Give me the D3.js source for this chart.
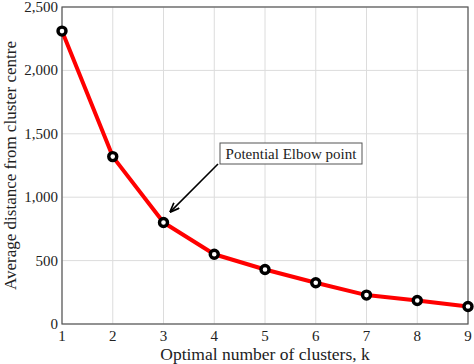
<!DOCTYPE html>
<html><head><meta charset="utf-8">
<script src="https://cdn.jsdelivr.net/npm/d3@7"></script>
<style>body{margin:0;background:#fff}svg{display:block}text{font-family:"Liberation Serif","DejaVu Serif",serif;fill:#222}</style>
</head><body><svg id="c" width="474" height="364"></svg>
<script>
const ks = [1,2,3,4,5,6,7,8,9];
const distances = [2310,1320,800,550,430,325,228,185,138];
const yTicks = [0,500,1000,1500,2000,2500];
const xLabel = "Optimal number of clusters, k";
const yLabel = "Average distance from cluster centre";
const annotation = "Potential Elbow point";
const annotatedK = 3;

const svg = d3.select("#c");
const L=62,R=468,T=7,B=324;
const x = d3.scaleLinear().domain([1,9]).range([L,R]);
const y = d3.scaleLinear().domain([0,2500]).range([B,T]);

const g = svg.append("g");
g.selectAll(".gx").data(ks).enter().append("line")
 .attr("x1",d=>x(d)).attr("x2",d=>x(d)).attr("y1",T).attr("y2",B)
 .attr("stroke","#dcdcdc").attr("stroke-width",1);
g.selectAll(".gy").data(yTicks).enter().append("line")
 .attr("x1",L).attr("x2",R).attr("y1",d=>y(d)).attr("y2",d=>y(d))
 .attr("stroke","#dcdcdc").attr("stroke-width",1);
g.append("rect").attr("x",L).attr("y",T).attr("width",R-L).attr("height",B-T)
 .attr("fill","none").attr("stroke","#555").attr("stroke-width",1.2);

const fmt = d3.format(",");
g.selectAll(".yt").data(yTicks).enter().append("text")
 .attr("x",L-4).attr("y",d=>y(d)+5).attr("text-anchor","end").attr("font-size",15).text(d=>fmt(d));
g.selectAll(".xt").data(ks).enter().append("text")
 .attr("x",d=>x(d)).attr("y",B+17).attr("text-anchor","middle").attr("font-size",15).text(d=>d);
svg.append("text").attr("x",(L+R)/2).attr("y",360).attr("text-anchor","middle").attr("font-size",17.5).text(xLabel);
svg.append("text").attr("transform",`translate(16,${(T+B)/2}) rotate(-90)`).attr("text-anchor","middle").attr("font-size",17).text(yLabel);

const line = d3.line().x((d,i)=>x(ks[i])).y(d=>y(d));
g.append("path").datum(distances).attr("d",line).attr("fill","none")
 .attr("stroke","#ff0000").attr("stroke-width",4).attr("stroke-linejoin","round");
g.selectAll(".pt").data(distances).enter().append("circle")
 .attr("cx",(d,i)=>x(ks[i])).attr("cy",d=>y(d)).attr("r",4)
 .attr("fill","#fff").attr("stroke","#000").attr("stroke-width",3.4);

const ai = ks.indexOf(annotatedK);
const px = x(annotatedK), py = y(distances[ai]);
const bx=220, by=143, bw=142, bh=21;
g.append("rect").attr("x",bx).attr("y",by).attr("width",bw).attr("height",bh)
 .attr("fill","#fff").attr("stroke","#555").attr("stroke-width",1);
g.append("text").attr("x",bx+bw/2).attr("y",by+15.5).attr("text-anchor","middle").attr("font-size",15).text(annotation);
svg.append("defs").append("marker").attr("id","ar").attr("viewBox","0 0 10 10").attr("refX",9).attr("refY",5)
 .attr("markerWidth",6).attr("markerHeight",6).attr("orient","auto")
 .append("path").attr("d","M0,1 L10,5 L0,9").attr("fill","none").attr("stroke","#000").attr("stroke-width",1.8);
g.append("line").attr("x1",bx-2).attr("y1",by+bh).attr("x2",px+7).attr("y2",py-11)
 .attr("stroke","#000").attr("stroke-width",1.6).attr("marker-end","url(#ar)");
</script></body></html>
